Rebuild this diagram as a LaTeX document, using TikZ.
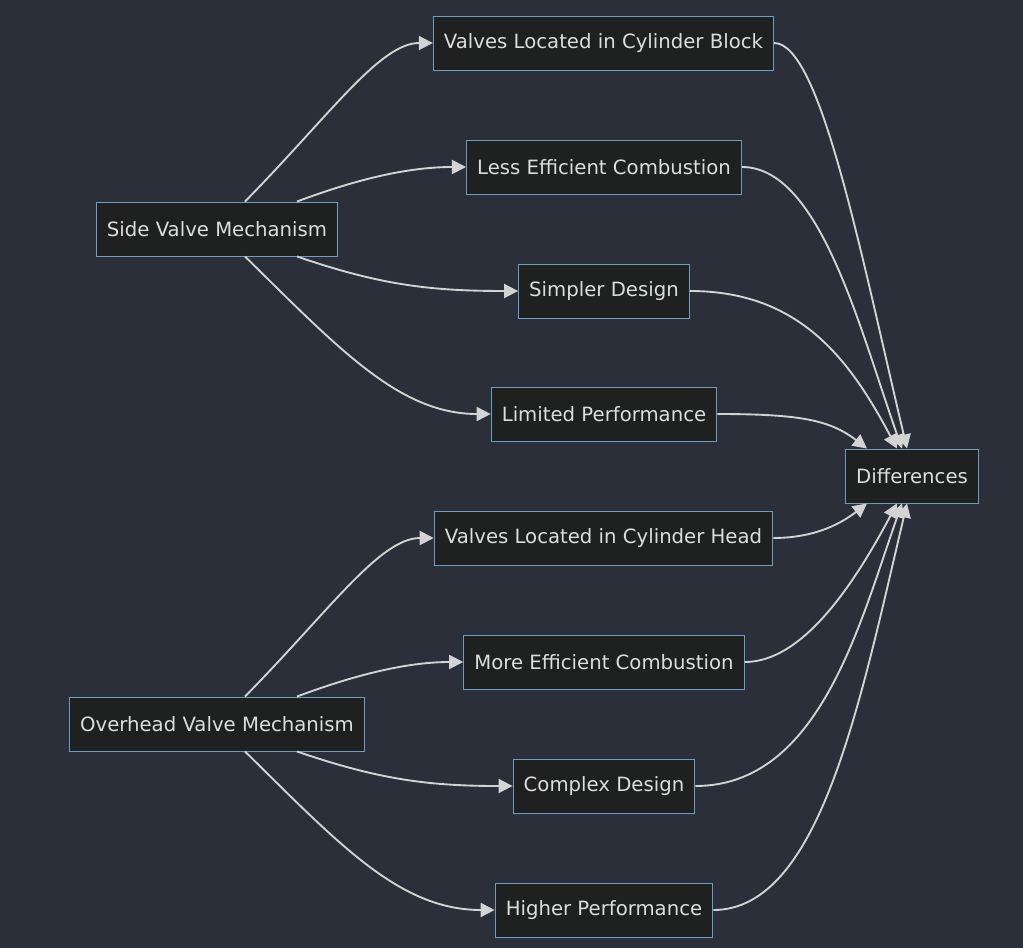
\documentclass[tikz,border=0pt]{standalone}
\usepackage{fontspec}
\setmainfont{DejaVu Sans}
\usetikzlibrary{arrows.meta, calc, positioning}
\definecolor{bgdark}{HTML}{2A2F3A}
\definecolor{boxfill}{HTML}{1F2020}
\definecolor{boxline}{HTML}{6F9CC4}
\definecolor{inktext}{HTML}{DDDDDD}
\definecolor{wire}{HTML}{D3D3D3}
\tikzstyle{block} = [rectangle, minimum height=1.62cm, inner xsep=0.32cm, text centered, draw=boxline, fill=boxfill, text=inktext, line width=0.8pt, font=\fontsize{16.8}{19}\selectfont]
\tikzstyle{arrow} = [line width=1.6pt, draw=wire, -{Triangle[length=12pt,width=12pt]}]

\begin{document}
\begin{tikzpicture}[x=0.03cm, y=-0.03cm]

\fill[bgdark] (0,0) rectangle (1023,948);
\useasboundingbox (0,0) rectangle (1023,948);

\node (sidevalve) [block] at (217,229) {Side Valve Mechanism};
\node (ohvalve) [block] at (217,724) {Overhead Valve Mechanism};

\node (inblock) [block] at (603.5,43) {Valves Located in Cylinder Block};
\node (lesseff) [block] at (604,167) {Less Efficient Combustion};
\node (simpler) [block] at (604,291) {Simpler Design};
\node (limited) [block] at (604,414) {Limited Performance};
\node (inhead) [block] at (603.5,538) {Valves Located in Cylinder Head};
\node (moreeff) [block] at (604,662) {More Efficient Combustion};
\node (complex) [block] at (604,786) {Complex Design};
\node (higher) [block] at (604,910) {Higher Performance};

\node (diff) [block] at (912,476) {Differences};

% side valve branches
\draw [arrow] ($(sidevalve.north)+(28,0)$) .. controls (330,115) and (380,43) .. (inblock.west);
\draw [arrow] ($(sidevalve.north)+(80,0)$) .. controls (360,178) and (410,167) .. (lesseff.west);
\draw [arrow] ($(sidevalve.south)+(80,0)$) .. controls (380,285) and (430,291) .. (simpler.west);
\draw [arrow] ($(sidevalve.south)+(28,0)$) .. controls (340,350) and (400,414) .. (limited.west);

% overhead valve branches
\draw [arrow] ($(ohvalve.north)+(28,0)$) .. controls (330,610) and (380,538) .. (inhead.west);
\draw [arrow] ($(ohvalve.north)+(80,0)$) .. controls (360,673) and (410,662) .. (moreeff.west);
\draw [arrow] ($(ohvalve.south)+(80,0)$) .. controls (380,780) and (430,786) .. (complex.west);
\draw [arrow] ($(ohvalve.south)+(28,0)$) .. controls (340,845) and (400,910) .. (higher.west);

% into differences
\draw [arrow] (inblock.east) .. controls (820,43) and (860,250) .. ($(diff.north)+(-5,0)$);
\draw [arrow] (lesseff.east) .. controls (820,167) and (860,330) .. ($(diff.north)+(-10,0)$);
\draw [arrow] (simpler.east) .. controls (800,291) and (850,360) .. ($(diff.north)+(-15,0)$);
\draw [arrow] (limited.east) .. controls (800,414) and (830,420) .. ($(diff.north)+(-45,0)$);
\draw [arrow] (inhead.east) .. controls (800,538) and (830,532) .. ($(diff.south)+(-45,0)$);
\draw [arrow] (moreeff.east) .. controls (800,662) and (850,592) .. ($(diff.south)+(-15,0)$);
\draw [arrow] (complex.east) .. controls (820,786) and (860,622) .. ($(diff.south)+(-10,0)$);
\draw [arrow] (higher.east) .. controls (820,910) and (860,702) .. ($(diff.south)+(-5,0)$);

\end{tikzpicture}
\end{document}
